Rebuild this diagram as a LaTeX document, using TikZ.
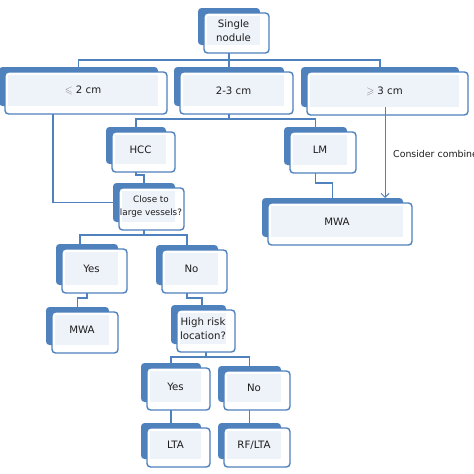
\documentclass[tikz,border=0pt]{standalone}
\usepackage{amssymb}
\usepackage{fontspec}
\setmainfont{DejaVu Sans}
\usetikzlibrary{fit,backgrounds,arrows.meta}
\definecolor{acc}{HTML}{4F81BD}
\definecolor{lite}{HTML}{EEF2F9}
\definecolor{txtc}{HTML}{1E1E1E}
\tikzset{
 backbox/.style={fill=acc, draw=none, rounded corners=3.5pt, inner sep=0pt, outer sep=0pt},
 frontbox/.style={fill=white, draw=acc, line width=1.4pt, rounded corners=3.5pt, inner sep=0pt, outer sep=0pt},
 litebox/.style={fill=lite, draw=none, inner sep=0pt, outer sep=0pt},
 txt/.style={text=txtc, font=\fontsize{10.2}{13.5}\selectfont, align=center, inner sep=0pt},
 smalltxt/.style={font=\fontsize{8.8}{13.5}\selectfont, xshift=2.5pt},
 labeltxt/.style={text=txtc, font=\fontsize{9.4}{12}\selectfont, inner sep=0pt},
 conn/.style={draw=acc, line width=1.4pt},
 arr/.style={draw=acc, line width=1pt, -{Straight Barb[length=4pt,width=8pt]}},
}
% #1 text options, #2 name, #3 x1, #4 y1, #5 x2, #6 y2, #7 text
\newcommand\bx[7][]{%
 \node[backbox, fit={(#3-6,#4-5)(#5-9,#6-8)}] (#2-b) {};
 \node[frontbox, fit={(#3,#4)(#5,#6)}] (#2-f) {};
 \node[litebox, fit={(#3+3,#4+3)(#5-9,#6-8)}] (#2) {};
 \node[txt,#1] (#2-t) at (#2.center) {#7};
}
\begin{document}
\begin{tikzpicture}[x=1pt,y=-1pt]
\useasboundingbox (0,0) rectangle (474,474);
\bx{single}{204}{13}{269}{53}{Single\\nodule}
\bx{le2}{5}{72}{167}{114}{\textcolor{gray}{$\leqslant$} 2 cm}
\bx{mid}{180}{72}{293}{114}{2-3 cm}
\bx{ge3}{307}{72}{468}{115}{\textcolor{gray}{$\geqslant$} 3 cm}
\bx{hcc}{112}{132}{175}{172}{HCC}
\bx{lm}{290}{132}{356}{173}{LM}
\bx[smalltxt]{close}{119}{188}{184}{230}{Close to\\large vessels?}
\bx{mwaR}{268}{203}{412}{245}{MWA}
\bx{yes1}{62}{249}{127}{293}{Yes}
\bx{no1}{162}{250}{227}{293}{No}
\bx{mwaL}{52}{312}{118}{353}{MWA}
\bx{high}{177}{310}{235}{352}{High risk\\location?}
\bx{yes2}{147}{368}{210}{410}{Yes}
\bx{no2}{224}{371}{290}{410}{No}
\bx{lta}{147}{428}{210}{467}{LTA}
\bx{rflta}{224}{428}{290}{467}{RF/LTA}
\node[labeltxt, anchor=west] (lbl) at (393,154) {Consider combine};
\begin{pgfonlayer}{background}
\draw[conn] (single-b.south) -- (mid-b.north);
\draw[conn] (le2-b.north) -- ++(0,-7) -| (ge3-b.north);
\draw[conn] ([xshift=-25.5pt]le2-b.south) |- (close-b.west);
\draw[conn] (mid-b.south) -- ++(0,13);
\draw[conn] (hcc-b.north) -- ++(0,-8) -| (lm-b.north);
\draw[conn] (hcc-b.south) -- ++(0,11) -| (close-b.north);
\draw[conn] (lm-b.south) -- ++(0,18) -| (mwaR-b.north);
\draw[conn] (close-b.south) -- ++(0,13);
\draw[conn] ([xshift=-7pt]yes1-b.north) -- ++(0,-9) -| (no1-b.north);
\draw[conn] (yes1-b.south) -- ++(0,13) -| (mwaL-b.north);
\draw[conn] (no1-b.south) -- ++(0,13) -| ([xshift=3.5pt]high-b.north);
\draw[conn] (high-f.south) -- ++(0,5);
\draw[conn] (yes2-b.north) -- ++(0,-6) -| (no2-b.north);
\draw[conn] (yes2-b.south) -- (lta-b.north);
\draw[conn] (no2-b.south) -- (rflta-b.north);
\end{pgfonlayer}
\draw[arr] ([xshift=5pt]ge3-b.south) -- ([xshift=5pt]ge3-b.south |- mwaR-b.north);
\end{tikzpicture}
\end{document}
